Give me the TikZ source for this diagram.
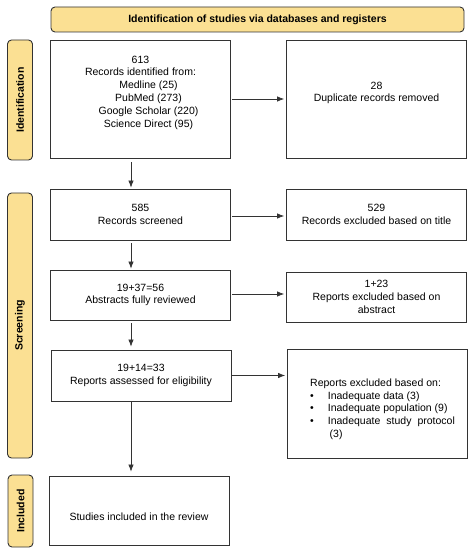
\documentclass[tikz,border=0pt]{standalone}
\usepackage{fontspec}
\setmainfont{Liberation Sans}
\usetikzlibrary{arrows.meta}
\definecolor{phaseyellow}{HTML}{FBE093}
\definecolor{edgegray}{HTML}{333333}

\begin{document}
\begin{tikzpicture}[x=1pt,y=-1pt,
  box/.style={draw=edgegray,line width=0.9pt,minimum width=180pt,align=center,inner sep=0pt},
  phase/.style={draw=edgegray,line width=0.9pt,fill=phaseyellow,rounded corners=4pt,minimum width=25pt},
  phaselabel/.style={rotate=90,font=\fontsize{10.5}{12}\selectfont\bfseries},
  arr/.style={-{Latex[length=7pt,width=5.5pt]},line width=0.7pt,edgegray},
  font=\fontsize{10.5}{12.8}\selectfont]
\useasboundingbox (0,0) rectangle (474,553);
\node[phase,minimum width=413pt,minimum height=25pt,font=\fontsize{10.5}{12}\selectfont\bfseries] (head) at (257.5,19.5) {Identification of studies via databases and registers};
\node[phase,minimum height=120pt] (idphase) at (20,100) {};
\node[phaselabel] (idlabel) at (idphase) {Identification};
\node[phase,minimum height=265pt] (scphase) at (20,325.5) {};
\node[phaselabel] (sclabel) at (scphase) {Screening};
\node[phase,minimum height=72pt] (inphase) at (20.5,511) {};
\node[phaselabel] (inlabel) at (inphase) {Included};
\node[box,minimum height=118pt] (ident) at (140.5,99) {};
\node[align=center] (identtxt) at (140.5,92.5) {613\\Records identified from:\\\hspace*{16pt}Medline (25)\\\hspace*{16pt}PubMed (273)\\\hspace*{16pt}Google Scholar (220)\\\hspace*{16pt}Science Direct (95)};
\node[box,minimum height=118pt] (dupl) at (376.5,99) {};
\node[align=center] (dupltxt) at (376.5,93) {28\\Duplicate records removed};
\node[box,minimum height=51pt] (screen) at (140.5,214.5) {585\\Records screened};
\node[box,minimum height=51pt] (title) at (376.5,214.5) {529\\Records excluded based on title};
\node[box,minimum height=50pt] (abstr) at (140.5,295) {19+37=56\\Abstracts fully reviewed};
\node[box,minimum height=50pt] (absx) at (376.5,297) {1+23\\Reports excluded based on\\abstract};
\node[box,minimum height=51pt] (assess) at (141,375.5) {19+14=33\\Reports assessed for eligibility};
\node[box,minimum height=109pt] (excl) at (377.5,403.5) {};
\node[align=left,anchor=north west,inner sep=0pt] (excltxt) at (310,378.5) {Reports excluded based on:\\
  \textbullet\hspace{14pt}Inadequate data (3)\\
  \textbullet\hspace{14pt}Inadequate population (9)\\
  \textbullet\hspace{14pt}Inadequate\hspace{6pt}study\hspace{6pt}protocol\\
  \hspace*{19.5pt}(3)};
\node[box,minimum height=69pt] (incl) at (139,510.5) {};
\node (incltxt) at (139,517) {Studies included in the review};
\coordinate (spine) at (131,0);
\draw[arr,shorten <=1pt,shorten >=2pt] (ident.east) -- (dupl.west);
\draw[arr,shorten <=4pt,shorten >=1pt] (spine |- ident.south) -- (spine |- screen.north);
\draw[arr,shorten <=1pt,shorten >=2pt] ([yshift=-1.5pt]screen.east) -- ([yshift=-1.5pt]title.west);
\draw[arr,shorten <=3pt,shorten >=1pt] (spine |- screen.south) -- (spine |- abstr.north);
\draw[arr,shorten <=1pt,shorten >=2pt] ([yshift=1pt]abstr.east) -- ([yshift=1pt]abstr.east -| absx.west);
\draw[arr,shorten <=3pt,shorten >=3pt] (spine |- abstr.south) -- (spine |- assess.north);
\draw[arr,shorten <=1pt,shorten >=2pt] (assess.east) -- (assess.east -| excl.west);
\draw[arr,shorten <=1pt,shorten >=4pt] (spine |- assess.south) -- (spine |- incl.north);
\end{tikzpicture}
\end{document}
